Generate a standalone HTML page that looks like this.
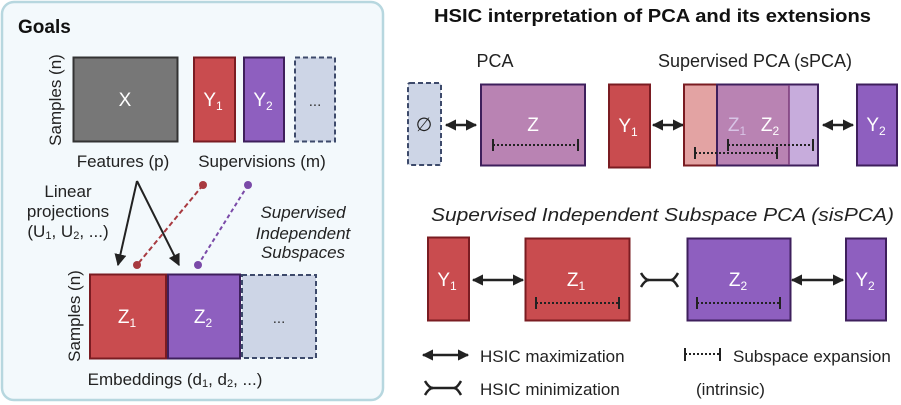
<!DOCTYPE html>
<html><head><meta charset="utf-8"><style>
html,body{margin:0;padding:0;background:#fff}
svg{display:block;font-family:"Liberation Sans",sans-serif}
</style></head><body>
<svg width="901" height="405" viewBox="0 0 901 405" xmlns="http://www.w3.org/2000/svg">
<defs>
<marker id="ah" viewBox="0 0 10 10" refX="9" refY="5" markerWidth="4.5" markerHeight="4.5" orient="auto-start-reverse"><path d="M0,0 L10,5 L0,10 z" fill="#222"/></marker>
<marker id="ak" viewBox="0 0 10 10" refX="9" refY="5" markerWidth="6" markerHeight="6" orient="auto"><path d="M0,0 L10,5 L0,10 z" fill="#222"/></marker>
</defs>
<!-- Left panel -->
<rect x="2" y="2" width="381" height="398" rx="12" fill="#f3f9fc" stroke="#b7d7df" stroke-width="2.5"/>
<text x="18" y="33" font-size="19" font-weight="bold" fill="#111">Goals</text>
<text transform="translate(61,100) rotate(-90)" font-size="17" text-anchor="middle" fill="#222">Samples (n)</text>
<rect x="73.5" y="57.5" width="104" height="84" fill="#777" stroke="#333" stroke-width="2"/>
<text x="125" y="106" font-size="19" fill="#fff" text-anchor="middle">X</text>
<rect x="194" y="57.5" width="41" height="84" fill="#c94c4f" stroke="#7a1c22" stroke-width="2"/>
<text x="213" y="106" font-size="19" fill="#fff" text-anchor="middle">Y<tspan font-size="12" dy="4">1</tspan></text>
<rect x="244" y="57.5" width="40" height="84" fill="#8e5fbf" stroke="#3e1f5c" stroke-width="2"/>
<text x="263" y="106" font-size="19" fill="#fff" text-anchor="middle">Y<tspan font-size="12" dy="4">2</tspan></text>
<rect x="295" y="57.5" width="40" height="84" fill="#cdd5e6" stroke="#3d4a6b" stroke-width="2" stroke-dasharray="5,3"/>
<text x="315" y="106" font-size="15" fill="#333" text-anchor="middle">...</text>
<text x="123" y="167" font-size="17" fill="#222" text-anchor="middle">Features (p)</text>
<text x="262" y="167" font-size="17" fill="#222" text-anchor="middle">Supervisions (m)</text>
<text x="68" y="197" font-size="17" fill="#222" text-anchor="middle">Linear</text>
<text x="68" y="217" font-size="17" fill="#222" text-anchor="middle">projections</text>
<text x="68" y="237" font-size="17" fill="#222" text-anchor="middle">(U<tspan font-size="11" dy="2">1</tspan><tspan dy="-2">, U</tspan><tspan font-size="11" dy="2">2</tspan><tspan dy="-2">, ...)</tspan></text>
<path d="M137,181 L118,265" stroke="#222" stroke-width="2" marker-end="url(#ak)" fill="none"/>
<path d="M137,181 L179,265" stroke="#222" stroke-width="2" marker-end="url(#ak)" fill="none"/>
<line x1="203" y1="185" x2="137" y2="265" stroke="#a83a40" stroke-width="2" stroke-dasharray="5,3"/>
<circle cx="203" cy="185" r="4" fill="#a83a40"/><circle cx="137" cy="265" r="4" fill="#a83a40"/>
<line x1="248" y1="185" x2="198" y2="265" stroke="#7a4aa8" stroke-width="2" stroke-dasharray="4,3"/>
<circle cx="248" cy="185" r="4" fill="#7a4aa8"/><circle cx="198" cy="265" r="4" fill="#7a4aa8"/>
<g font-size="17" font-style="italic" fill="#222" text-anchor="middle">
<text x="303" y="218">Supervised</text><text x="303" y="239">Independent</text><text x="303" y="258">Subspaces</text></g>
<text transform="translate(80,316) rotate(-90)" font-size="17" text-anchor="middle" fill="#222">Samples (n)</text>
<rect x="90" y="274.5" width="76" height="84" fill="#c94c4f" stroke="#7a1c22" stroke-width="2"/>
<text x="127" y="323" font-size="19" fill="#fff" text-anchor="middle">Z<tspan font-size="12" dy="4">1</tspan></text>
<rect x="168" y="274.5" width="72" height="84" fill="#8e5fbf" stroke="#3e1f5c" stroke-width="2"/>
<text x="203" y="323" font-size="19" fill="#fff" text-anchor="middle">Z<tspan font-size="12" dy="4">2</tspan></text>
<rect x="242" y="275" width="74" height="83" fill="#cdd5e6" stroke="#3d4a6b" stroke-width="2" stroke-dasharray="5,3"/>
<text x="279" y="323" font-size="15" fill="#333" text-anchor="middle">...</text>
<text x="175" y="385" font-size="17" fill="#222" text-anchor="middle">Embeddings (d<tspan font-size="11" dy="2">1</tspan><tspan dy="-2">, d</tspan><tspan font-size="11" dy="2">2</tspan><tspan dy="-2">, ...)</tspan></text>

<!-- Right -->
<text x="434" y="22" font-size="18" font-weight="bold" fill="#111" textLength="437" lengthAdjust="spacingAndGlyphs">HSIC interpretation of PCA and its extensions</text>
<text x="495" y="67" font-size="18" fill="#222" text-anchor="middle">PCA</text>
<text x="755" y="67" font-size="18" fill="#222" text-anchor="middle">Supervised PCA (sPCA)</text>
<rect x="408" y="83" width="33" height="82" rx="2" fill="#cdd5e6" stroke="#3d4a6b" stroke-width="2" stroke-dasharray="5,3"/>
<text x="424" y="131" font-size="19" fill="#222" text-anchor="middle">∅</text>
<line x1="446" y1="125" x2="476" y2="125" stroke="#222" stroke-width="2.5" marker-start="url(#ah)" marker-end="url(#ah)"/>
<rect x="481" y="84.5" width="104" height="81" fill="#b983b3" stroke="#3e1f5c" stroke-width="2"/>
<text x="533" y="131" font-size="19" fill="#fff" text-anchor="middle">Z</text>
<g stroke="#222" stroke-width="2"><line x1="493" y1="139" x2="493" y2="151"/><line x1="578" y1="139" x2="578" y2="151"/><line x1="493" y1="145" x2="578" y2="145" stroke-dasharray="2,2"/></g>
<rect x="609" y="84.5" width="41" height="83" fill="#c94c4f" stroke="#7a1c22" stroke-width="2"/>
<text x="628" y="132" font-size="19" fill="#fff" text-anchor="middle">Y<tspan font-size="12" dy="4">1</tspan></text>
<line x1="653" y1="125" x2="683" y2="125" stroke="#222" stroke-width="2.5" marker-start="url(#ah)" marker-end="url(#ah)"/>
<rect x="684" y="84.5" width="105" height="81" fill="#e3a3a3" stroke="#7a1c22" stroke-width="2"/>
<rect x="717" y="84.5" width="101" height="81" fill="#c7acdc" stroke="#3e1f5c" stroke-width="2"/>
<rect x="718" y="85.5" width="71" height="79" fill="#b983b3"/>
<line x1="789" y1="85" x2="789" y2="165" stroke="#7a3a7a" stroke-width="1.5"/>
<text x="737" y="131" font-size="19" fill="#d8c4e6" text-anchor="middle">Z<tspan font-size="12" dy="4">1</tspan></text>
<text x="770" y="131" font-size="19" fill="#fff" text-anchor="middle">Z<tspan font-size="12" dy="4">2</tspan></text>
<g stroke="#222" stroke-width="2"><line x1="695" y1="147" x2="695" y2="159"/><line x1="777" y1="147" x2="777" y2="159"/><line x1="695" y1="153" x2="777" y2="153" stroke-dasharray="2,2"/>
<line x1="728" y1="139" x2="728" y2="151"/><line x1="813" y1="139" x2="813" y2="151"/><line x1="728" y1="145" x2="813" y2="145" stroke-dasharray="2,2"/></g>
<line x1="823" y1="125" x2="853" y2="125" stroke="#222" stroke-width="2.5" marker-start="url(#ah)" marker-end="url(#ah)"/>
<rect x="857" y="84.5" width="40" height="81" fill="#8e5fbf" stroke="#3e1f5c" stroke-width="2"/>
<text x="876" y="131" font-size="19" fill="#fff" text-anchor="middle">Y<tspan font-size="12" dy="4">2</tspan></text>

<text x="431" y="221" font-size="18" font-style="italic" fill="#222" textLength="463" lengthAdjust="spacingAndGlyphs">Supervised Independent Subspace PCA (sisPCA)</text>
<rect x="428" y="237.5" width="41" height="83" fill="#c94c4f" stroke="#7a1c22" stroke-width="2"/>
<text x="447" y="286" font-size="19" fill="#fff" text-anchor="middle">Y<tspan font-size="12" dy="4">1</tspan></text>
<line x1="473" y1="280" x2="523" y2="280" stroke="#222" stroke-width="2.5" marker-start="url(#ah)" marker-end="url(#ah)"/>
<rect x="525.5" y="238.5" width="104" height="82" fill="#c94c4f" stroke="#7a1c22" stroke-width="2"/>
<text x="576" y="286" font-size="19" fill="#fff" text-anchor="middle">Z<tspan font-size="12" dy="4">1</tspan></text>
<g stroke="#222" stroke-width="2"><line x1="536" y1="297" x2="536" y2="309"/><line x1="619" y1="297" x2="619" y2="309"/><line x1="536" y1="303" x2="619" y2="303" stroke-dasharray="2,2"/></g>
<g stroke="#222" stroke-width="2.5" fill="none"><path d="M641,273 Q645,280 649,280 Q645,280 641,287"/><line x1="648" y1="280" x2="672" y2="280"/><path d="M678,273 Q674,280 671,280 Q674,280 678,287"/></g>
<rect x="687.5" y="238.5" width="103" height="82" fill="#8e5fbf" stroke="#3e1f5c" stroke-width="2"/>
<text x="738" y="286" font-size="19" fill="#fff" text-anchor="middle">Z<tspan font-size="12" dy="4">2</tspan></text>
<g stroke="#222" stroke-width="2"><line x1="697" y1="297" x2="697" y2="309"/><line x1="780" y1="297" x2="780" y2="309"/><line x1="697" y1="303" x2="780" y2="303" stroke-dasharray="2,2"/></g>
<line x1="792" y1="280" x2="843" y2="280" stroke="#222" stroke-width="2.5" marker-start="url(#ah)" marker-end="url(#ah)"/>
<rect x="846" y="238.5" width="40" height="82" fill="#8e5fbf" stroke="#3e1f5c" stroke-width="2"/>
<text x="865" y="286" font-size="19" fill="#fff" text-anchor="middle">Y<tspan font-size="12" dy="4">2</tspan></text>

<line x1="423" y1="355" x2="468" y2="355" stroke="#222" stroke-width="2.5" marker-start="url(#ah)" marker-end="url(#ah)"/>
<text x="480" y="362" font-size="17" fill="#222">HSIC maximization</text>
<g stroke="#222" stroke-width="2.5" fill="none"><path d="M425,381 Q429,388 433,388 Q429,388 425,395"/><line x1="432" y1="388" x2="455" y2="388"/><path d="M461,381 Q457,388 454,388 Q457,388 461,395"/></g>
<text x="480" y="395" font-size="17" fill="#222">HSIC minimization</text>
<g stroke="#222" stroke-width="2"><line x1="685" y1="348" x2="685" y2="361"/><line x1="720" y1="348" x2="720" y2="361"/><line x1="685" y1="354" x2="720" y2="354" stroke-dasharray="2,2"/></g>
<text x="733" y="362" font-size="17" fill="#222">Subspace expansion</text>
<text x="696" y="395" font-size="17" fill="#222">(intrinsic)</text>
</svg>
</body></html>
